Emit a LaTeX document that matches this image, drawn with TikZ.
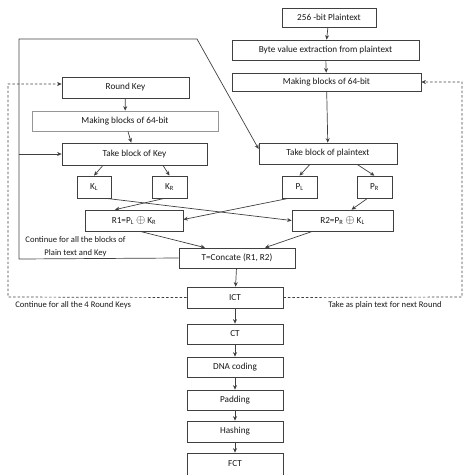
\documentclass[tikz,border=0pt]{standalone}
\usepackage{amsmath}
\usepackage{fontspec}
\setmainfont{Carlito}
\usepackage{tikz}
\usetikzlibrary{arrows}
\usetikzlibrary{arrows.meta}
\definecolor{boxgray}{rgb}{0.25,0.25,0.25}
\definecolor{txtgray}{rgb}{0.1,0.1,0.1}

\begin{document}
\begin{tikzpicture}[
            x = 1pt, y = -1pt,
            > = {Stealth[length=4.5pt,width=4pt]}, % arrow head style
            line width = 0.7pt, % line style
            color = boxgray,
            text = txtgray,
            font = \fontsize{9.2}{10}\selectfont
        ]

        \tikzstyle{block}=[
            draw = boxgray,
            fill = white,
            inner sep = 0pt,
            minimum height = 20pt
        ]
        \tikzstyle{note}=[
            inner sep = 0pt,
            font = \fontsize{8.6}{13}\selectfont
        ]
        \tikzstyle{loopback}=[
            dash pattern = on 2.5pt off 2pt
        ]

        \useasboundingbox (0,0) rectangle (474,475);

	% plaintext side
        \node[block, minimum width=94pt, minimum height=19pt] (plain) at (329,17.5) {256 -bit Plaintext};
        \node[block, minimum width=187pt] (byte) at (325.5,50) {Byte value extraction from plaintext};
        \node[block, minimum width=189pt, minimum height=18pt] (mbr) at (326.5,82) {Making blocks of 64-bit};
        \node[block, minimum width=138pt, minimum height=21pt] (tbp) at (328,153.5) {Take block of plaintext};

	% key side
        \node[block, minimum width=127pt, minimum height=21pt] (rkey) at (125.5,87.5) {Round Key};
        \node[block, minimum width=186pt, draw=boxgray!55] (mbl) at (125,121) {Making blocks of 64-bit};
        \node[block, minimum width=145pt, minimum height=22pt] (tbk) at (134.5,154) {Take block of Key};

	% halves
        \node[block, minimum width=34pt, minimum height=22pt] (kl) at (94,187) {K\textsubscript{L}};
        \node[block, minimum width=35pt, minimum height=22pt] (kr) at (169.5,187) {K\textsubscript{R}};
        \node[block, minimum width=35pt, minimum height=22pt] (pl) at (299.5,187) {P\textsubscript{L}};
        \node[block, minimum width=35pt, minimum height=22pt] (pr) at (374.5,187) {P\textsubscript{R}};

        \node[block, minimum width=98pt, minimum height=21pt] (r1) at (134,220.5) {R1=P\textsubscript{L} {\large$\oplus$} K\textsubscript{R}};
        \node[block, minimum width=101pt, minimum height=21pt] (r2) at (342.5,220.5) {R2=P\textsubscript{R} {\large$\oplus$} K\textsubscript{L}};
        \node[block, minimum width=116pt] (t) at (237,258) {T=Concate (R1, R2)};

	% output chain
        \node[block, minimum width=96pt, minimum height=21pt] (ict) at (235,297.5) {ICT};
        \node[block, minimum width=96pt] (ct) at (235,334) {CT};
        \node[block, minimum width=96pt] (dna) at (235,367) {DNA coding};
        \node[block, minimum width=96pt] (pad) at (235,400) {Padding};
        \node[block, minimum width=96pt, minimum height=21pt] (hash) at (235,431.5) {Hashing};
        \node[block, minimum width=96pt, minimum height=22pt] (fct) at (235,464) {FCT};

	% labels
        \node[note, align=center] (lblocks) at (75.5,246.5) {Continue for all the blocks of\\Plain text and Key};
        \node[note, anchor=west] (lrounds) at (15,305) {Continue for all the 4 Round Keys};
        \node[note, anchor=west] (lnext) at (328,305) {Take as plain text for next Round};

        \coordinate (lpc) at (19,259);
        \coordinate (ltop) at (19,39);
        \coordinate (bend) at (197,39);
        \coordinate (ldash) at (8,297);
        \coordinate (rdash) at (462,297);

        \path[->] (plain) edge (byte);
        \path[->] (byte) edge (mbr);
        \path[->] (mbr) edge (tbp);
        \path[->] (rkey) edge (mbl);
        \path[->] (mbl) edge (tbk);

        \draw[->] ([xshift=-31.5pt]tbk.south) -- (kl.north);
        \draw[->] ([xshift=28.5pt]tbk.south) -- (kr.north);
        \draw[->] ([xshift=-18pt]tbp.south) -- (pl.north);
        \draw[->] ([xshift=29pt]tbp.south) -- (pr.north);

        \draw[->] ([xshift=12pt]kl.south) -- (r2.west);
        \draw[->] ([xshift=-5pt]kr.south) -- ([xshift=-19pt]r1.north);
        \draw[->] ([xshift=-11pt]pl.south) -- ([yshift=1pt]r1.east);
        \draw[->] ([xshift=-7pt]pr.south) -- ([xshift=9pt]r2.north);
        \draw[->] ([xshift=6pt]r1.south) -- ([xshift=-32pt]t.north);
        \draw[->] ([xshift=-30pt]r2.south) -- ([xshift=28pt]t.north);

        \path[->] (t) edge (ict);
        \path[->] (ict) edge (ct);
        \path[->] (ct) edge (dna);
        \path[->] (dna) edge (pad);
        \path[->] (pad) edge (hash);
        \path[->] (hash) edge (fct);

	% loops
        \draw[->] (t.west) -- (lpc) -- (ltop) -- (bend) -- ([yshift=4.5pt]tbp.west);
        \draw[->] (tbk.west -| lpc) -- (tbk.west);
        \draw[loopback,->] (ict.east) -- (rdash) |- (mbr.east);
        \draw[loopback,->] (ict.west) -- (ldash) |- ([yshift=3.5pt]rkey.west);

  \end{tikzpicture}
\end{document}
